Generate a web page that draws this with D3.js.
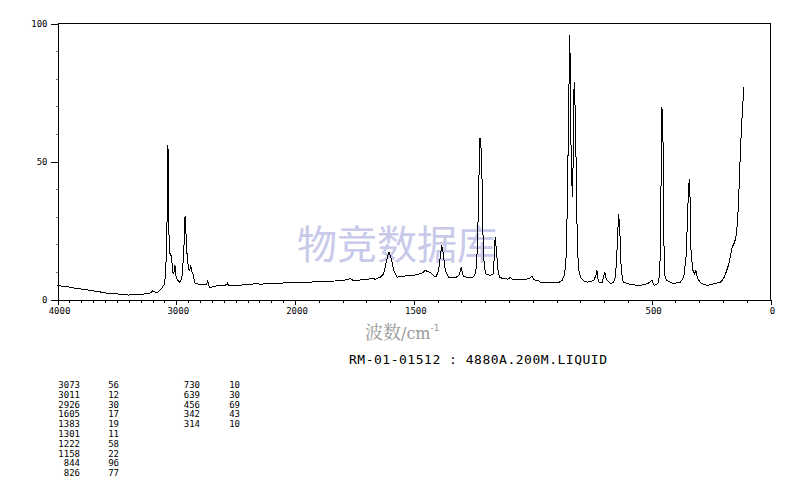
<!DOCTYPE html>
<html><head><meta charset="utf-8">
<script src="https://cdn.jsdelivr.net/npm/d3@7"></script>
<style>body{margin:0;background:#fff}</style>
</head><body><svg id="c" width="794" height="482" style="display:block;background:#fff"></svg>
<script>
// ---- data ----
const wavenumbers = [4000,3950,3900,3863,3800,3722,3650,3582,3520,3445,3400,3350,3302,3250,3218,3200,3184,3161,3140,3119,3100,3091,3082,3077,3073,3068,3064,3058,3049,3040,3030,3021,3011,3003,2993,2980,2971,2960,2951,2940,2932,2926,2920,2912,2904,2895,2887,2878,2868,2858,2848,2839,2811,2770,2745,2735,2728,2718,2698,2656,2600,2570,2567,2560,2500,2460,2420,2376,2330,2292,2200,2124,2060,2000,
1936,1900,1851,1800,1767,1755,1739,1700,1683,1660,1641,1630,1624,1613,1605,1595,1585,1571,1550,1529,1500,1487,1465,1452,1431,1415,1405,1396,1388,1383,1376,1368,1354,1340,1325,1310,1301,1293,1276,1251,1240,1233,1228,1224,1222,1215,1211,1207,1199,1178,1167,1162,1158,1152,1145,1138,1122,1105,1094,1085,1066,1045,1024,1010,1003,995,975,968,940,912,890,877,866,860,856,852,848,844,840,836,832,829,826,822,819,816,811,805,799,785,771,755,744,735,730,725,721,708,701,697,691,687,673,660,652,645,639,634,630,628,622,617,589,547,520,506,498,492,488,474,468,464,461,457,453,450,447,443,436,420,408,395,379,365,354,348,342,338,334,326,320,314,306,296,287,266,250,238,210,198,189,175,161,151,143,137,131,126,119,112];
const intensities = [5.2,4.7,4.5,4.2,3.8,3.3,2.8,2.3,2.1,1.8,1.6,1.9,1.8,2.1,2.4,3.1,2.8,2.4,3.2,4.3,5.5,8.5,18,30,56,54,30,17,16.5,15.5,10,9.4,12.3,8.5,7.5,6.5,6.3,7,8.5,15,22,30.4,26,18,14,11,10.5,12.3,10,9.3,7,5.7,5.6,5.3,5.5,7.0,5.0,4.4,4.5,5.0,5.0,5.5,6.0,5.0,5.2,5.1,5.6,5.4,5.8,5.5,5.9,5.8,6.3,6.2,
6.3,6.5,6.6,6.9,7.5,6.9,7.0,7.2,7.5,7.4,8.1,9.0,10.5,14.7,17.2,14.7,10.5,8.1,8.3,8.7,8.8,9.0,9.6,10.5,9.8,8.4,8.5,10.5,16,19.6,16.5,10.5,8.1,7.8,7.9,8.8,11.5,8.6,7.9,8.1,9.5,18,36,54,58.6,52.8,30,15.3,9.3,8.7,9.3,15,22.8,17,9.5,8,7.5,7.4,8.0,7.2,7.1,7.3,7.4,7.8,8.5,7.2,6.7,6.3,6.2,6.0,6.2,6.9,9,15,28.6,50,75,96,60,43,37,60,78.7,70,58.8,35.9,16.5,10,8.1,6.7,6.3,6.5,6.9,8.5,10.5,7,6.3,6.3,8.5,9.9,7.5,6.9,5.7,6.3,8.1,18.9,31,26,15,11.7,7,6.3,5.4,5.1,5.7,6.3,7.1,5.5,5.1,5.7,8,15,37,69.7,65,38,11.7,8,6.9,6.2,5.7,6.0,6.3,8.1,16.5,33,43.7,36,16.5,10.5,9.3,10.5,7.5,6.3,5.7,5.1,5.4,5.7,6.3,7.5,9.3,12.9,19,20.7,23.8,31,43,55.2,67.3,77];

const xMajorTicks = [4000,3000,2000,1500,500,0];
const yMajorTicks = [0,50,100];
const yMinorTicks = [10,20,30,40,60,70,80,90];

const peakWnA = ["3073","3011","2926","1605","1383","1301","1222","1158","844","826"];
const peakIntA = ["56","12","30","17","19","11","58","22","96","77"];
const peakWnB = ["730","639","456","342","314"];
const peakIntB = ["10","30","69","43","10"];

const xTitle = "波数/cm";
const xTitleSup = "-1";
const sampleTitle = "RM-01-01512 : 4880A.200M.LIQUID";
const watermark = "物竞数据库";

// ---- drawing ----
const svg = d3.select("#c");
const mono = "'DejaVu Sans Mono', 'Liberation Mono', monospace";

const x = d3.scaleLinear().domain([4000,2000,0]).range([57.5,295,770.5]);
const y = d3.scaleLinear().domain([0,100]).range([299.5,23.5]);

// watermark
svg.append("text")
  .attr("x", 397).attr("y", 259)
  .attr("text-anchor","middle")
  .attr("font-family","'Noto Sans CJK SC', sans-serif")
  .attr("font-size", 40)
  .attr("fill", "#c9c9ea")
  .text(watermark);

// frame: top and right
svg.append("line").attr("x1",57.5).attr("x2",770.5).attr("y1",23.5).attr("y2",23.5)
  .attr("stroke","#000").attr("shape-rendering","crispEdges");
svg.append("line").attr("x1",770.5).attr("x2",770.5).attr("y1",23.5).attr("y2",299.5)
  .attr("stroke","#000").attr("shape-rendering","crispEdges");

// x minor ticks
const minorVals = d3.range(0, 4001, 100).filter(v => !xMajorTicks.includes(v));
svg.append("g").attr("transform","translate(0,299.5)")
  .call(d3.axisBottom(x).tickValues(minorVals).tickSize(3).tickSizeOuter(0).tickFormat(""))
  .call(g => g.selectAll("line,path").attr("shape-rendering","crispEdges"));
// x major ticks with labels
svg.append("g").attr("transform","translate(0,299.5)")
  .call(d3.axisBottom(x).tickValues(xMajorTicks).tickSize(5).tickSizeOuter(0).tickPadding(3).tickFormat(d3.format("d")))
  .call(g => g.selectAll("line,path").attr("shape-rendering","crispEdges"))
  .call(g => g.selectAll("text").attr("font-family",mono).attr("font-size",9).attr("fill","#000").attr("dx",1.5));

// y axis
svg.append("g").attr("transform","translate(57.5,0)")
  .call(d3.axisLeft(y).tickValues(yMinorTicks).tickSize(2).tickSizeOuter(0).tickFormat(""))
  .call(g => g.selectAll("line,path").attr("shape-rendering","crispEdges"))
  .call(g => g.selectAll(".tick line").attr("stroke","#777"));
svg.append("g").attr("transform","translate(57.5,0)")
  .call(d3.axisLeft(y).tickValues(yMajorTicks).tickSize(7).tickSizeOuter(0).tickPadding(3).tickFormat(d3.format("d")))
  .call(g => g.selectAll("line,path").attr("shape-rendering","crispEdges"))
  .call(g => g.selectAll("text").attr("font-family",mono).attr("font-size",9).attr("fill","#000"));

// spectrum
const pts = wavenumbers.map((w,i) => [w, intensities[i]]);
svg.append("path").datum(pts)
  .attr("fill","none").attr("stroke","#000").attr("stroke-width",1)
  .attr("shape-rendering","crispEdges")
  .attr("d", d3.line().x(d => x(d[0])).y(d => y(d[1])));

// axis title
const t = svg.append("text").attr("x",365).attr("y",339)
  .attr("fill","#999").attr("font-size",18)
  .attr("font-family","'Noto Serif CJK SC','Noto Sans CJK SC', serif");
t.append("tspan").text(xTitle.slice(0,2));
t.append("tspan").attr("font-family","'DejaVu Serif','Liberation Serif',serif").attr("font-size",16).text(xTitle.slice(2));
t.append("tspan").attr("font-family","'DejaVu Sans',sans-serif").attr("font-size",9).attr("dy",-8).text(xTitleSup);

// sample title
svg.append("text").attr("x",349).attr("y",364)
  .attr("font-family",mono).attr("font-size",13).attr("fill","#000")
  .attr("textLength",258).attr("lengthAdjust","spacing")
  .text(sampleTitle);

// peak table
const rowY = i => 388 + i*9.8;
const tbl = svg.append("g").attr("font-family",mono).attr("font-size",9).attr("fill","#000").attr("text-anchor","end");
tbl.selectAll(".a").data(peakWnA).join("text").attr("x",80).attr("y",(d,i)=>rowY(i)).text(d=>d);
tbl.selectAll(".b").data(peakIntA).join("text").attr("x",119).attr("y",(d,i)=>rowY(i)).text(d=>d);
tbl.selectAll(".c").data(peakWnB).join("text").attr("x",200).attr("y",(d,i)=>rowY(i)).text(d=>d);
tbl.selectAll(".d").data(peakIntB).join("text").attr("x",240).attr("y",(d,i)=>rowY(i)).text(d=>d);
</script>
</body></html>
